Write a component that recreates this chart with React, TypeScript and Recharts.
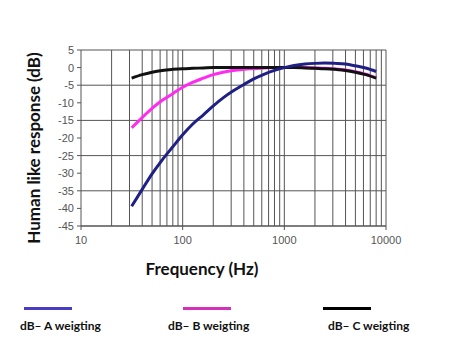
import { LineChart, Line, XAxis, YAxis, CartesianGrid, ReferenceLine } from 'recharts';

// third-octave frequencies (Hz) and weighting response (dB)
const freqs = [31.5, 40, 50, 63, 80, 100, 125, 160, 200, 250, 315, 400, 500, 630, 800, 1000, 1250, 1600, 2000, 2500, 3150, 4000, 5000, 6300, 8000];
const aWeight = [-39.4, -34.6, -30.2, -26.2, -22.5, -19.1, -16.1, -13.4, -10.9, -8.6, -6.6, -4.8, -3.2, -1.9, -0.8, 0, 0.6, 1.0, 1.2, 1.3, 1.2, 1.0, 0.5, -0.1, -1.1];
const bWeight = [-17.1, -14.2, -11.6, -9.3, -7.4, -5.6, -4.2, -3.0, -2.0, -1.3, -0.8, -0.5, -0.3, -0.1, 0, 0, 0, 0, -0.1, -0.2, -0.4, -0.7, -1.2, -1.9, -2.9];
const cWeight = [-3.0, -2.0, -1.3, -0.8, -0.5, -0.3, -0.2, -0.1, 0, 0, 0, 0, 0, 0, 0, 0, 0, -0.1, -0.2, -0.3, -0.5, -0.8, -1.3, -2.0, -3.0];

const xTicks = [10, 100, 1000, 10000];
const yTicks = [-45, -40, -35, -30, -25, -20, -15, -10, -5, 0, 5];
const gridFreqs = [20, 30, 40, 50, 60, 70, 80, 90, 100, 200, 300, 400, 500, 600, 700, 800, 900, 1000, 2000, 3000, 4000, 5000, 6000, 7000, 8000, 9000, 10000];

const legendItems = [
    { label: 'dB– A weigting', color: '#4a3cc4', left: 24, textLeft: 20 },
    { label: 'dB– B weigting', color: '#d531b8', left: 183, textLeft: 168 },
    { label: 'dB– C weigting', color: '#000000', left: 323, textLeft: 328 },
];

const data = freqs.map((f, i) => ({ freq: f, a: aWeight[i], b: bWeight[i], c: cWeight[i] }));

const tickStyle = { fontSize: 11, fill: '#555', fontFamily: 'Liberation Sans, Arial, sans-serif' };
const titleFont = 'Lato, "Open Sans", sans-serif';

export default function App() {
    return (
        <div style={{ position: 'absolute', left: 0, top: 0, width: 474, height: 355, background: '#fff' }}>
            <LineChart width={474} height={355} data={data} margin={{ top: 50, right: 88, left: 20, bottom: 99 }}>
                <CartesianGrid vertical={false} stroke="#555" strokeWidth={1} />
                {gridFreqs.map(g => (
                    <ReferenceLine key={g} x={g} stroke="#555" strokeWidth={1} ifOverflow="extendDomain" />
                ))}
                <XAxis
                    dataKey="freq"
                    type="number"
                    scale="log"
                    domain={[10, 10000]}
                    ticks={xTicks}
                    allowDataOverflow
                    tick={tickStyle}
                    tickLine={{ stroke: '#555' }}
                    axisLine={{ stroke: '#555' }}
                    height={30}
                    tickSize={4}
                    tickMargin={6}
                />
                <YAxis
                    type="number"
                    domain={[-45, 5]}
                    ticks={yTicks}
                    tick={tickStyle}
                    tickLine={{ stroke: '#555' }}
                    axisLine={{ stroke: '#555' }}
                    width={61}
                    tickSize={4}
                    tickMargin={3}
                />
                <Line type="monotone" dataKey="b" stroke="#ff2cf0" strokeWidth={3} dot={false} isAnimationActive={false} />
                <Line type="monotone" dataKey="c" stroke="#111" strokeWidth={3} dot={false} isAnimationActive={false} />
                <Line type="monotone" dataKey="a" stroke="#1f1f86" strokeWidth={3} dot={false} isAnimationActive={false} />
            </LineChart>

            <div style={{
                position: 'absolute', left: 33, top: 148, transform: 'translate(-50%, -50%) rotate(-90deg)',
                whiteSpace: 'nowrap', fontFamily: titleFont, fontWeight: 700, fontSize: 17, color: '#111'
            }}>
                Human like response (dB)
            </div>
            <div style={{
                position: 'absolute', left: 202, top: 268, transform: 'translate(-50%, -50%)',
                whiteSpace: 'nowrap', fontFamily: titleFont, fontWeight: 700, fontSize: 17, color: '#111'
            }}>
                Frequency (Hz)
            </div>

            {legendItems.map(item => (
                <div key={item.label}>
                    <div style={{ position: 'absolute', left: item.left, top: 307, width: 48, height: 3, background: item.color }} />
                    <div style={{
                        position: 'absolute', left: item.textLeft, top: 318, whiteSpace: 'nowrap',
                        fontFamily: titleFont, fontWeight: 700, fontSize: 12, color: '#111'
                    }}>
                        {item.label}
                    </div>
                </div>
            ))}
        </div>
    );
}
